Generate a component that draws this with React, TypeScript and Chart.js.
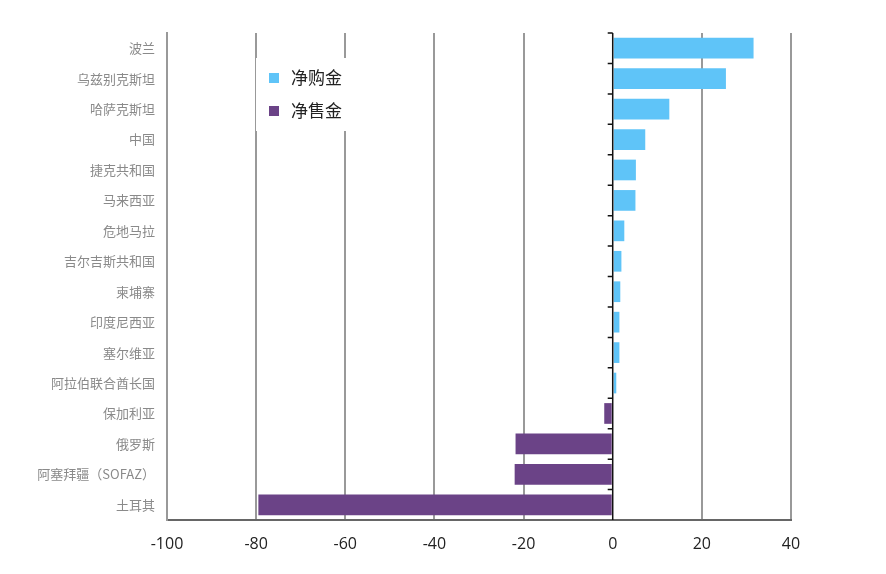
import React, { useEffect, useRef } from 'react';
import { Chart, registerables } from 'chart.js';

Chart.register(...registerables);

const countries = [
  '波兰', '乌兹别克斯坦', '哈萨克斯坦', '中国', '捷克共和国', '马来西亚', '危地马拉',
  '吉尔吉斯共和国', '柬埔寨', '印度尼西亚', '塞尔维亚', '阿拉伯联合酋长国',
  '保加利亚', '俄罗斯', '阿塞拜疆（SOFAZ）', '土耳其',
];

// 净购金 (net purchases), null where the country was a net seller
const netPurchases = [31.6, 25.4, 12.7, 7.3, 5.2, 5.1, 2.6, 1.95, 1.7, 1.5, 1.5, 0.8, null, null, null, null];
// 净售金 (net sales)
const netSales = [null, null, null, null, null, null, null, null, null, null, null, null, -1.9, -21.8, -22, -79.5];

const xTicks = [-100, -80, -60, -40, -20, 0, 20, 40];

const BLUE = '#5fc4f8';
const PURPLE = '#6b4387';

// zero line with small tick marks at category boundaries
const zeroLinePlugin = {
  id: 'zeroLine',
  afterDatasetsDraw(chart: any) {
    const { ctx, scales } = chart;
    const x0 = scales.x.getPixelForValue(0);
    const y = scales.y;
    ctx.save();
    ctx.strokeStyle = '#111';
    ctx.lineWidth = 1.5;
    ctx.beginPath();
    ctx.moveTo(x0, chart.chartArea.top);
    ctx.lineTo(x0, chart.chartArea.bottom);
    const n = chart.data.labels.length;
    for (let i = 0; i < n; i++) {
      const yy = y.getPixelForValue(i) - (y.getPixelForValue(1) - y.getPixelForValue(0)) / 2;
      ctx.moveTo(x0 - 5, yy);
      ctx.lineTo(x0, yy);
    }
    ctx.stroke();
    ctx.restore();
  },
};

// legend box floating inside the plot
const boxLegendPlugin = {
  id: 'boxLegend',
  afterDraw(chart: any) {
    const { ctx } = chart;
    const left = 256;
    const top = 58;
    ctx.save();
    ctx.fillStyle = '#fff';
    ctx.fillRect(left, top, 94, 73);
    ctx.font = '17px "Noto Sans CJK SC", sans-serif';
    ctx.textBaseline = 'middle';
    chart.data.datasets.forEach((ds: any, i: number) => {
      const cy = top + 20 + i * 33;
      ctx.fillStyle = ds.backgroundColor;
      ctx.fillRect(left + 13, cy - 5, 10, 10);
      ctx.fillStyle = '#222';
      ctx.fillText(ds.label, left + 35, cy);
    });
    ctx.restore();
  },
};

export default function App() {
  const chartRef = useRef<HTMLCanvasElement>(null);
  const chartInstance = useRef<Chart | null>(null);

  useEffect(() => {
    if (!chartRef.current) return;
    if (chartInstance.current) chartInstance.current.destroy();
    const ctx = chartRef.current.getContext('2d');
    if (!ctx) return;

    chartInstance.current = new Chart(ctx, {
      type: 'bar',
      data: {
        labels: countries,
        datasets: [
          { label: '净购金', data: netPurchases, backgroundColor: BLUE },
          { label: '净售金', data: netSales, backgroundColor: PURPLE },
        ],
      },
      plugins: [zeroLinePlugin, boxLegendPlugin],
      options: {
        indexAxis: 'y',
        animation: false,
        responsive: true,
        maintainAspectRatio: false,
        layout: { padding: { top: 33, right: 95, left: 0, bottom: 0 } },
        plugins: {
          legend: { display: false },
          tooltip: { enabled: false },
        },
        datasets: {
          bar: { barPercentage: 0.68, categoryPercentage: 1 },
        },
        scales: {
          x: {
            min: -100,
            max: 40,
            stacked: true,
            afterBuildTicks: (scale: any) => {
              scale.ticks = xTicks.map(v => ({ value: v }));
            },
            afterFit: (scale: any) => {
              scale.height = 54;
            },
            border: { display: true, color: '#666', width: 2 },
            grid: {
              color: (c: any) => (c.tick && c.tick.value === 0 ? 'rgba(0,0,0,0)' : '#999'),
              lineWidth: 2,
              drawTicks: false,
            },
            ticks: {
              color: '#222',
              padding: 15,
              font: { family: '"Open Sans", "Noto Sans", sans-serif', size: 16 },
            },
          },
          y: {
            stacked: true,
            afterFit: (scale: any) => {
              scale.width = 167;
            },
            border: { display: true, color: '#999', width: 2 },
            grid: { display: false },
            ticks: {
              color: '#8a8a8a',
              padding: 4,
              font: { family: '"Noto Sans CJK SC", sans-serif', size: 13 },
            },
          },
        },
      },
    });

    return () => {
      if (chartInstance.current) {
        chartInstance.current.destroy();
        chartInstance.current = null;
      }
    };
  }, []);

  return (
    <div style={{ position: 'fixed', left: 0, top: 0, width: 886, height: 574, background: '#fff' }}>
      <canvas ref={chartRef}></canvas>
    </div>
  );
}
